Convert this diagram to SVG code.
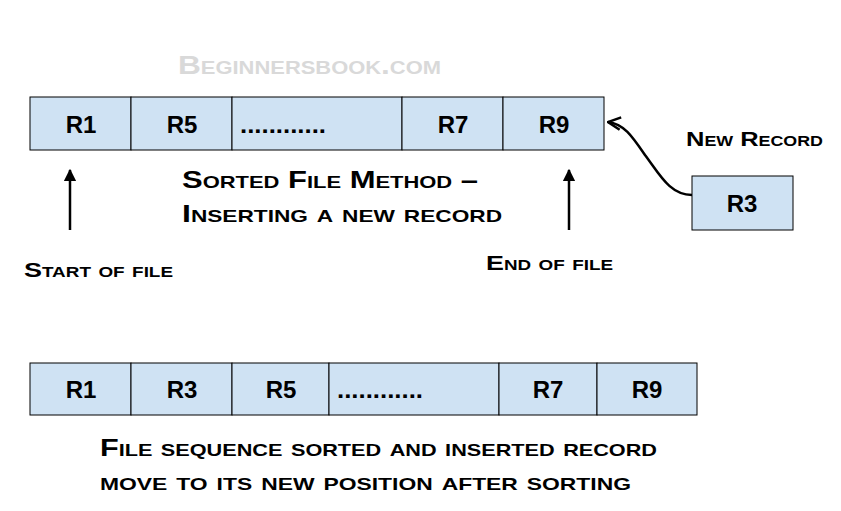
<svg xmlns="http://www.w3.org/2000/svg" width="841" height="511" viewBox="0 0 841 511">
<defs>
<style>
.cell{fill:#cfe2f3;stroke:#000;stroke-width:1}
.t{font-family:"Liberation Sans",Arial,sans-serif;font-weight:bold;font-variant:small-caps;fill:#000}
.c{font-size:24px;text-anchor:middle}
.l{font-size:24px}
.wm{font-size:26px;fill:#d9d9d9}
.ln{stroke:#000;stroke-width:2.5;fill:none}
</style>
<marker id="ah" viewBox="0 0 10 10" refX="9" refY="5" markerWidth="5" markerHeight="5" orient="auto">
<path d="M0,0 L10,5 L0,10 z" fill="#000"/>
</marker>
<marker id="ah2" viewBox="0 0 12 12" refX="11" refY="6" markerWidth="6" markerHeight="6" orient="auto">
<path d="M1,1 L11,6 L1,11" fill="none" stroke="#000" stroke-width="2"/>
</marker>
</defs>
<rect width="841" height="511" fill="#fff"/>
<text class="t wm" x="178" y="74" textLength="263" lengthAdjust="spacingAndGlyphs">Beginnersbook.com</text>
<g id="row1">
<rect class="cell" x="30" y="97" width="101" height="53"/>
<rect class="cell" x="131" y="97" width="101" height="53"/>
<rect class="cell" x="232" y="97" width="170" height="53"/>
<rect class="cell" x="402" y="97" width="101" height="53"/>
<rect class="cell" x="503" y="97" width="101" height="53"/>
<text class="t c" x="81" y="133">R1</text>
<text class="t c" x="182" y="133">R5</text>
<text class="t l" x="240" y="133" textLength="86" lengthAdjust="spacingAndGlyphs">............</text>
<text class="t c" x="453" y="133">R7</text>
<text class="t c" x="554" y="133">R9</text>
</g>
<g id="newrec">
<rect class="cell" x="692" y="176" width="101" height="54"/>
<text class="t c" x="742" y="212">R3</text>
</g>
<g id="row2">
<rect class="cell" x="30" y="363" width="101" height="52"/>
<rect class="cell" x="131" y="363" width="101" height="52"/>
<rect class="cell" x="232" y="363" width="97" height="52"/>
<rect class="cell" x="329" y="363" width="170" height="52"/>
<rect class="cell" x="499" y="363" width="98" height="52"/>
<rect class="cell" x="597" y="363" width="100" height="52"/>
<text class="t c" x="81" y="398">R1</text>
<text class="t c" x="182" y="398">R3</text>
<text class="t c" x="281" y="398">R5</text>
<text class="t l" x="337" y="398" textLength="86" lengthAdjust="spacingAndGlyphs">............</text>
<text class="t c" x="548" y="398">R7</text>
<text class="t c" x="647" y="398">R9</text>
</g>
<g id="connectors">
<line class="ln" x1="70" y1="230" x2="70" y2="170" marker-end="url(#ah)"/>
<line class="ln" x1="569" y1="230" x2="569" y2="170" marker-end="url(#ah)"/>
<path class="ln" d="M692,195 C670,195 660,175 645,155 C632,136 624,124 608,122" marker-end="url(#ah2)"/>
</g>
<g id="labels">
<text class="t l" x="182" y="188" textLength="296" lengthAdjust="spacingAndGlyphs">Sorted File Method –</text>
<text class="t l" x="182" y="222" textLength="320" lengthAdjust="spacingAndGlyphs">Inserting a new record</text>
<text class="t" font-size="20" x="24" y="277" textLength="149" lengthAdjust="spacingAndGlyphs">Start of file</text>
<text class="t" font-size="20" x="486" y="270" textLength="127" lengthAdjust="spacingAndGlyphs">End of file</text>
<text class="t" font-size="20" x="686" y="146" textLength="137" lengthAdjust="spacingAndGlyphs">New Record</text>
<text class="t l" x="100" y="456" textLength="557" lengthAdjust="spacingAndGlyphs">File sequence sorted and inserted record</text>
<text class="t l" x="100" y="490" textLength="531" lengthAdjust="spacingAndGlyphs">move to its new position after sorting</text>
</g>
</svg>
